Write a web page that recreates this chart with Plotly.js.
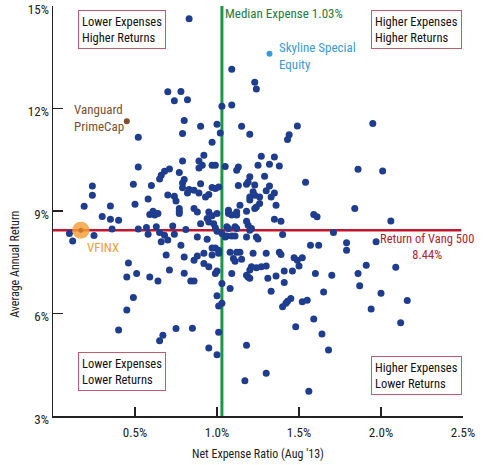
<!DOCTYPE html>
<html>
<head>
<meta charset="utf-8">
<script src="https://cdn.plot.ly/plotly-3.0.1.min.js"></script>
<style>
  html, body { margin: 0; padding: 0; background: #ffffff; }
  #chart { width: 483px; height: 465px; }
</style>
</head>
<body>
<div id="chart"></div>
<script>
// ---- Data ----
const expenseRatio = [
  0.70,0.78,0.74,0.82,0.80,0.79,0.52,0.79,0.52,0.71,0.68,0.66,0.65,0.77,0.80,0.79,0.49,0.60,0.24,0.79,
  0.83,0.82,0.24,0.58,0.70,0.74,1.09,1.23,1.24,1.03,1.09,0.90,1.00,1.02,1.15,1.20,1.49,1.44,1.43,0.97,
  0.92,1.27,1.35,0.89,0.91,0.89,0.97,0.99,1.05,1.13,1.12,1.25,1.32,1.38,1.20,1.29,0.90,0.97,0.99,1.01,
  1.13,1.18,1.19,1.23,1.32,1.54,0.86,0.89,0.95,0.93,1.22,1.30,1.35,1.26,1.20,1.33,1.23,1.95,1.86,2.01,
  0.19,0.35,0.50,0.75,0.77,0.77,0.77,0.30,0.35,0.40,0.59,0.61,0.63,0.62,0.64,0.73,0.63,0.57,0.52,0.36,
  0.10,0.12,0.25,0.58,0.65,0.68,0.74,0.81,0.66,0.70,0.78,0.69,0.80,0.46,0.71,0.51,0.45,0.59,0.80,0.64,
  0.84,0.49,0.45,0.40,0.67,0.75,0.85,0.86,0.88,0.95,0.97,1.00,1.07,1.07,1.09,1.12,1.12,1.14,1.18,1.20,
  1.23,1.24,1.26,1.35,1.39,1.59,1.61,0.90,0.94,0.95,0.98,0.99,1.00,1.03,1.06,1.07,1.11,1.12,1.18,1.19,
  1.21,1.20,1.06,1.09,1.11,1.18,1.05,1.24,1.25,1.40,0.88,0.94,1.57,1.62,0.97,0.99,1.01,1.01,0.97,0.88,
  0.86,0.92,1.08,1.12,1.14,1.10,1.11,1.15,1.22,1.30,1.38,1.39,1.47,1.49,1.50,1.52,0.92,0.95,1.21,1.20,
  1.19,1.20,1.18,1.24,1.27,1.30,1.31,1.36,1.41,1.46,1.41,1.60,1.70,1.09,0.99,1.00,0.86,1.03,1.08,1.33,
  1.65,1.00,1.45,1.43,1.42,1.40,1.52,1.55,1.03,1.01,1.59,1.48,1.64,1.01,1.84,2.06,1.71,1.79,1.79,1.97,
  1.91,2.09,1.86,1.87,2.00,2.16,1.94,2.12,0.65,0.95,1.00,1.18,1.17,1.30,1.68,1.56,0.83,1.36
];
const avgReturn = [
  12.49,12.50,12.23,12.26,11.65,11.27,11.16,10.46,10.29,10.23,10.16,10.05,9.94,10.13,9.92,9.82,9.78,9.75,9.73,9.68,
  9.63,9.53,9.46,9.35,9.47,9.43,13.15,12.77,12.57,12.07,12.10,11.48,11.54,11.28,11.48,11.25,11.49,11.23,11.09,11.01,
  10.63,10.60,10.58,10.46,10.34,10.26,10.34,10.34,10.30,10.29,10.19,10.34,10.37,10.32,10.00,10.02,9.80,9.69,9.66,9.70,
  9.75,9.78,9.85,9.76,9.73,9.84,9.61,9.53,9.48,9.41,9.56,9.59,9.53,9.41,9.41,9.41,9.46,11.56,10.22,10.17,
  9.14,9.15,9.20,9.29,9.07,8.99,8.93,8.84,8.76,8.73,8.90,8.99,8.93,8.88,8.93,8.56,8.54,8.52,8.47,8.47,
  8.34,8.12,8.28,8.32,8.37,8.29,8.32,8.46,8.10,8.15,8.00,7.71,7.65,7.48,7.27,7.17,7.07,7.07,7.18,6.95,
  6.95,6.47,6.10,5.52,5.36,5.56,5.57,9.07,8.97,8.97,8.86,8.93,9.02,8.93,8.88,8.97,8.88,9.17,8.99,9.32,
  9.07,9.12,9.22,8.76,8.70,8.90,8.83,8.63,8.78,8.68,8.63,8.51,8.41,8.34,8.54,8.49,8.54,8.49,8.70,8.58,
  8.49,8.44,8.27,8.27,8.27,8.24,8.24,8.24,8.18,8.31,8.24,8.17,8.00,8.00,7.92,7.92,7.85,7.76,7.71,7.68,
  7.56,7.76,7.79,7.79,7.79,7.61,7.53,7.59,7.76,7.76,7.79,7.73,7.63,7.56,7.39,7.63,7.46,7.37,7.37,7.27,
  7.07,7.03,7.12,7.34,7.37,7.39,7.03,7.10,7.24,7.24,6.91,7.17,7.12,7.17,7.17,7.24,6.95,6.88,6.73,6.65,
  6.63,6.52,6.44,6.36,6.30,6.20,6.34,6.39,6.30,6.22,5.84,5.61,5.40,5.45,9.07,8.71,8.37,8.07,7.85,8.10,
  7.41,7.35,7.17,6.81,6.59,6.38,6.13,5.73,5.20,4.99,4.79,5.07,4.03,4.25,4.93,3.72,14.63,9.17
];

const fundNames   = ['VFINX', 'Vanguard PrimeCap', 'Skyline Special Equity'];
const fundExpense = [0.17, 0.45, 1.32];
const fundReturn  = [8.44, 11.63, 13.60];

const medianExpense = 1.03;
const vang500Return = 8.44;

const xTickVals   = [0.5, 1.0, 1.5, 2.0, 2.5];
const xTickLabels = ['0.5%', '1.0%', '1.5%', '2.0%', '2.5%'];
const yTickVals   = [3, 6, 9, 12, 15];
const yTickLabels = ['3%', '6%', '9%', '12%', '15%'];

// ---- Styling ----
const FONT = "'Liberation Sans Narrow', 'Roboto Condensed', Roboto, 'Liberation Sans', sans-serif";
const AXIS_COLOR = '#222222';
const DOT_BLUE = '#1f3d8e';
const GREEN = '#179a47';
const RED = '#c4162e';
const BOX_BORDER = '#c45a6e';

const traces = [
  {
    type: 'scatter', mode: 'markers',
    x: expenseRatio, y: avgReturn,
    marker: { size: 7, color: DOT_BLUE },
    hoverinfo: 'x+y', showlegend: false, cliponaxis: false
  },
  { // VFINX halo
    type: 'scatter', mode: 'markers',
    x: [fundExpense[0]], y: [fundReturn[0]],
    marker: { size: 17, color: 'rgba(245,158,55,0.82)' },
    text: [fundNames[0]], hoverinfo: 'text', showlegend: false
  },
  { // VFINX centre
    type: 'scatter', mode: 'markers',
    x: [fundExpense[0]], y: [fundReturn[0]],
    marker: { size: 5, color: '#c77a2a' },
    hoverinfo: 'skip', showlegend: false
  },
  { // PrimeCap
    type: 'scatter', mode: 'markers',
    x: [fundExpense[1]], y: [fundReturn[1]],
    marker: { size: 6, color: '#7b5230' },
    text: [fundNames[1]], hoverinfo: 'text', showlegend: false
  },
  { // Skyline
    type: 'scatter', mode: 'markers',
    x: [fundExpense[2]], y: [fundReturn[2]],
    marker: { size: 6, color: '#3b9bd6' },
    text: [fundNames[2]], hoverinfo: 'text', showlegend: false
  }
];

function box(text, x, y) {
  return {
    text: text, x: x, y: y, xref: 'x', yref: 'y',
    xanchor: 'center', yanchor: 'middle', showarrow: false, align: 'left',
    font: { family: FONT, size: 12.5, color: '#111111' },
    bordercolor: BOX_BORDER, borderwidth: 1, borderpad: 3, bgcolor: '#ffffff'
  };
}

const layout = {
  width: 483, height: 465,
  margin: { l: 53, r: 20, t: 6, b: 49 },
  paper_bgcolor: '#ffffff', plot_bgcolor: '#ffffff',
  font: { family: FONT, size: 13, color: AXIS_COLOR },
  xaxis: {
    range: [0, 2.5], tickvals: xTickVals, ticktext: xTickLabels,
    ticks: 'inside', ticklen: 9, tickwidth: 1.5, tickcolor: AXIS_COLOR,
    showline: true, linecolor: AXIS_COLOR, linewidth: 1.5,
    showgrid: false, zeroline: false, ticklabeloverflow: 'allow', ticklabelstandoff: 4,
    tickfont: { family: FONT, size: 13, color: AXIS_COLOR },
    title: { text: "Net Expense Ratio (Aug '13)", font: { family: FONT, size: 12, color: AXIS_COLOR }, standoff: 10 }
  },
  yaxis: {
    range: [2.999, 15.001], tickvals: yTickVals, ticktext: yTickLabels,
    ticks: 'inside', ticklen: 10, tickwidth: 1.5, tickcolor: AXIS_COLOR,
    showline: true, linecolor: AXIS_COLOR, linewidth: 1.5,
    showgrid: false, zeroline: false, ticklabeloverflow: 'allow', ticklabelshift: 3,
    tickfont: { family: FONT, size: 13, color: AXIS_COLOR }
  },
  shapes: [
    { type: 'line', layer: 'below', xref: 'x', yref: 'paper',
      x0: medianExpense, x1: medianExpense, y0: 0, y1: 1,
      line: { color: GREEN, width: 3 } },
    { type: 'line', layer: 'below', xref: 'x', yref: 'y',
      x0: 0, x1: 2.49, y0: vang500Return, y1: vang500Return,
      line: { color: RED, width: 2.5 } }
  ],
  annotations: [
    box('Lower Expenses<br>Higher Returns', 0.42, 14.32),
    box('Higher Expenses<br>Higher Returns', 2.215, 14.32),
    box('Lower Expenses<br>Lower Returns', 0.42, 4.29),
    box('Higher Expenses<br>Lower Returns', 2.215, 4.18),
    { text: 'Median Expense ' + medianExpense.toFixed(2) + '%', x: 1.037, y: 14.79,
      xanchor: 'left', yanchor: 'middle', showarrow: false,
      font: { family: FONT, size: 13, color: '#1e7b3e' } },
    { text: 'Skyline Special<br>Equity', x: 1.366, y: 13.54,
      xanchor: 'left', yanchor: 'middle', align: 'left', showarrow: false,
      font: { family: FONT, size: 13, color: '#3b9bd6' } },
    { text: 'Vanguard<br>PrimeCap', x: 0.116, y: 11.71,
      xanchor: 'left', yanchor: 'middle', align: 'left', showarrow: false,
      font: { family: FONT, size: 13, color: '#7b5230' } },
    { text: fundNames[0], x: 0.193, y: 7.93,
      xanchor: 'left', yanchor: 'middle', align: 'left', showarrow: false,
      font: { family: FONT, size: 13, color: '#f0a030' } },
    { text: 'Return of Vang 500<br>' + vang500Return.toFixed(2) + '%', x: 2.28, y: 7.95,
      xanchor: 'center', yanchor: 'middle', align: 'center', showarrow: false,
      font: { family: FONT, size: 12.5, color: '#b0232e' } },
    { text: 'Average Annual Return', xref: 'paper', yref: 'y', x: -0.093, y: 7.45,
      xanchor: 'center', yanchor: 'middle', textangle: -90, showarrow: false,
      font: { family: FONT, size: 12, color: AXIS_COLOR } }
  ]
};

Plotly.newPlot('chart', traces, layout, { displayModeBar: false, staticPlot: true });
</script>
</body>
</html>
